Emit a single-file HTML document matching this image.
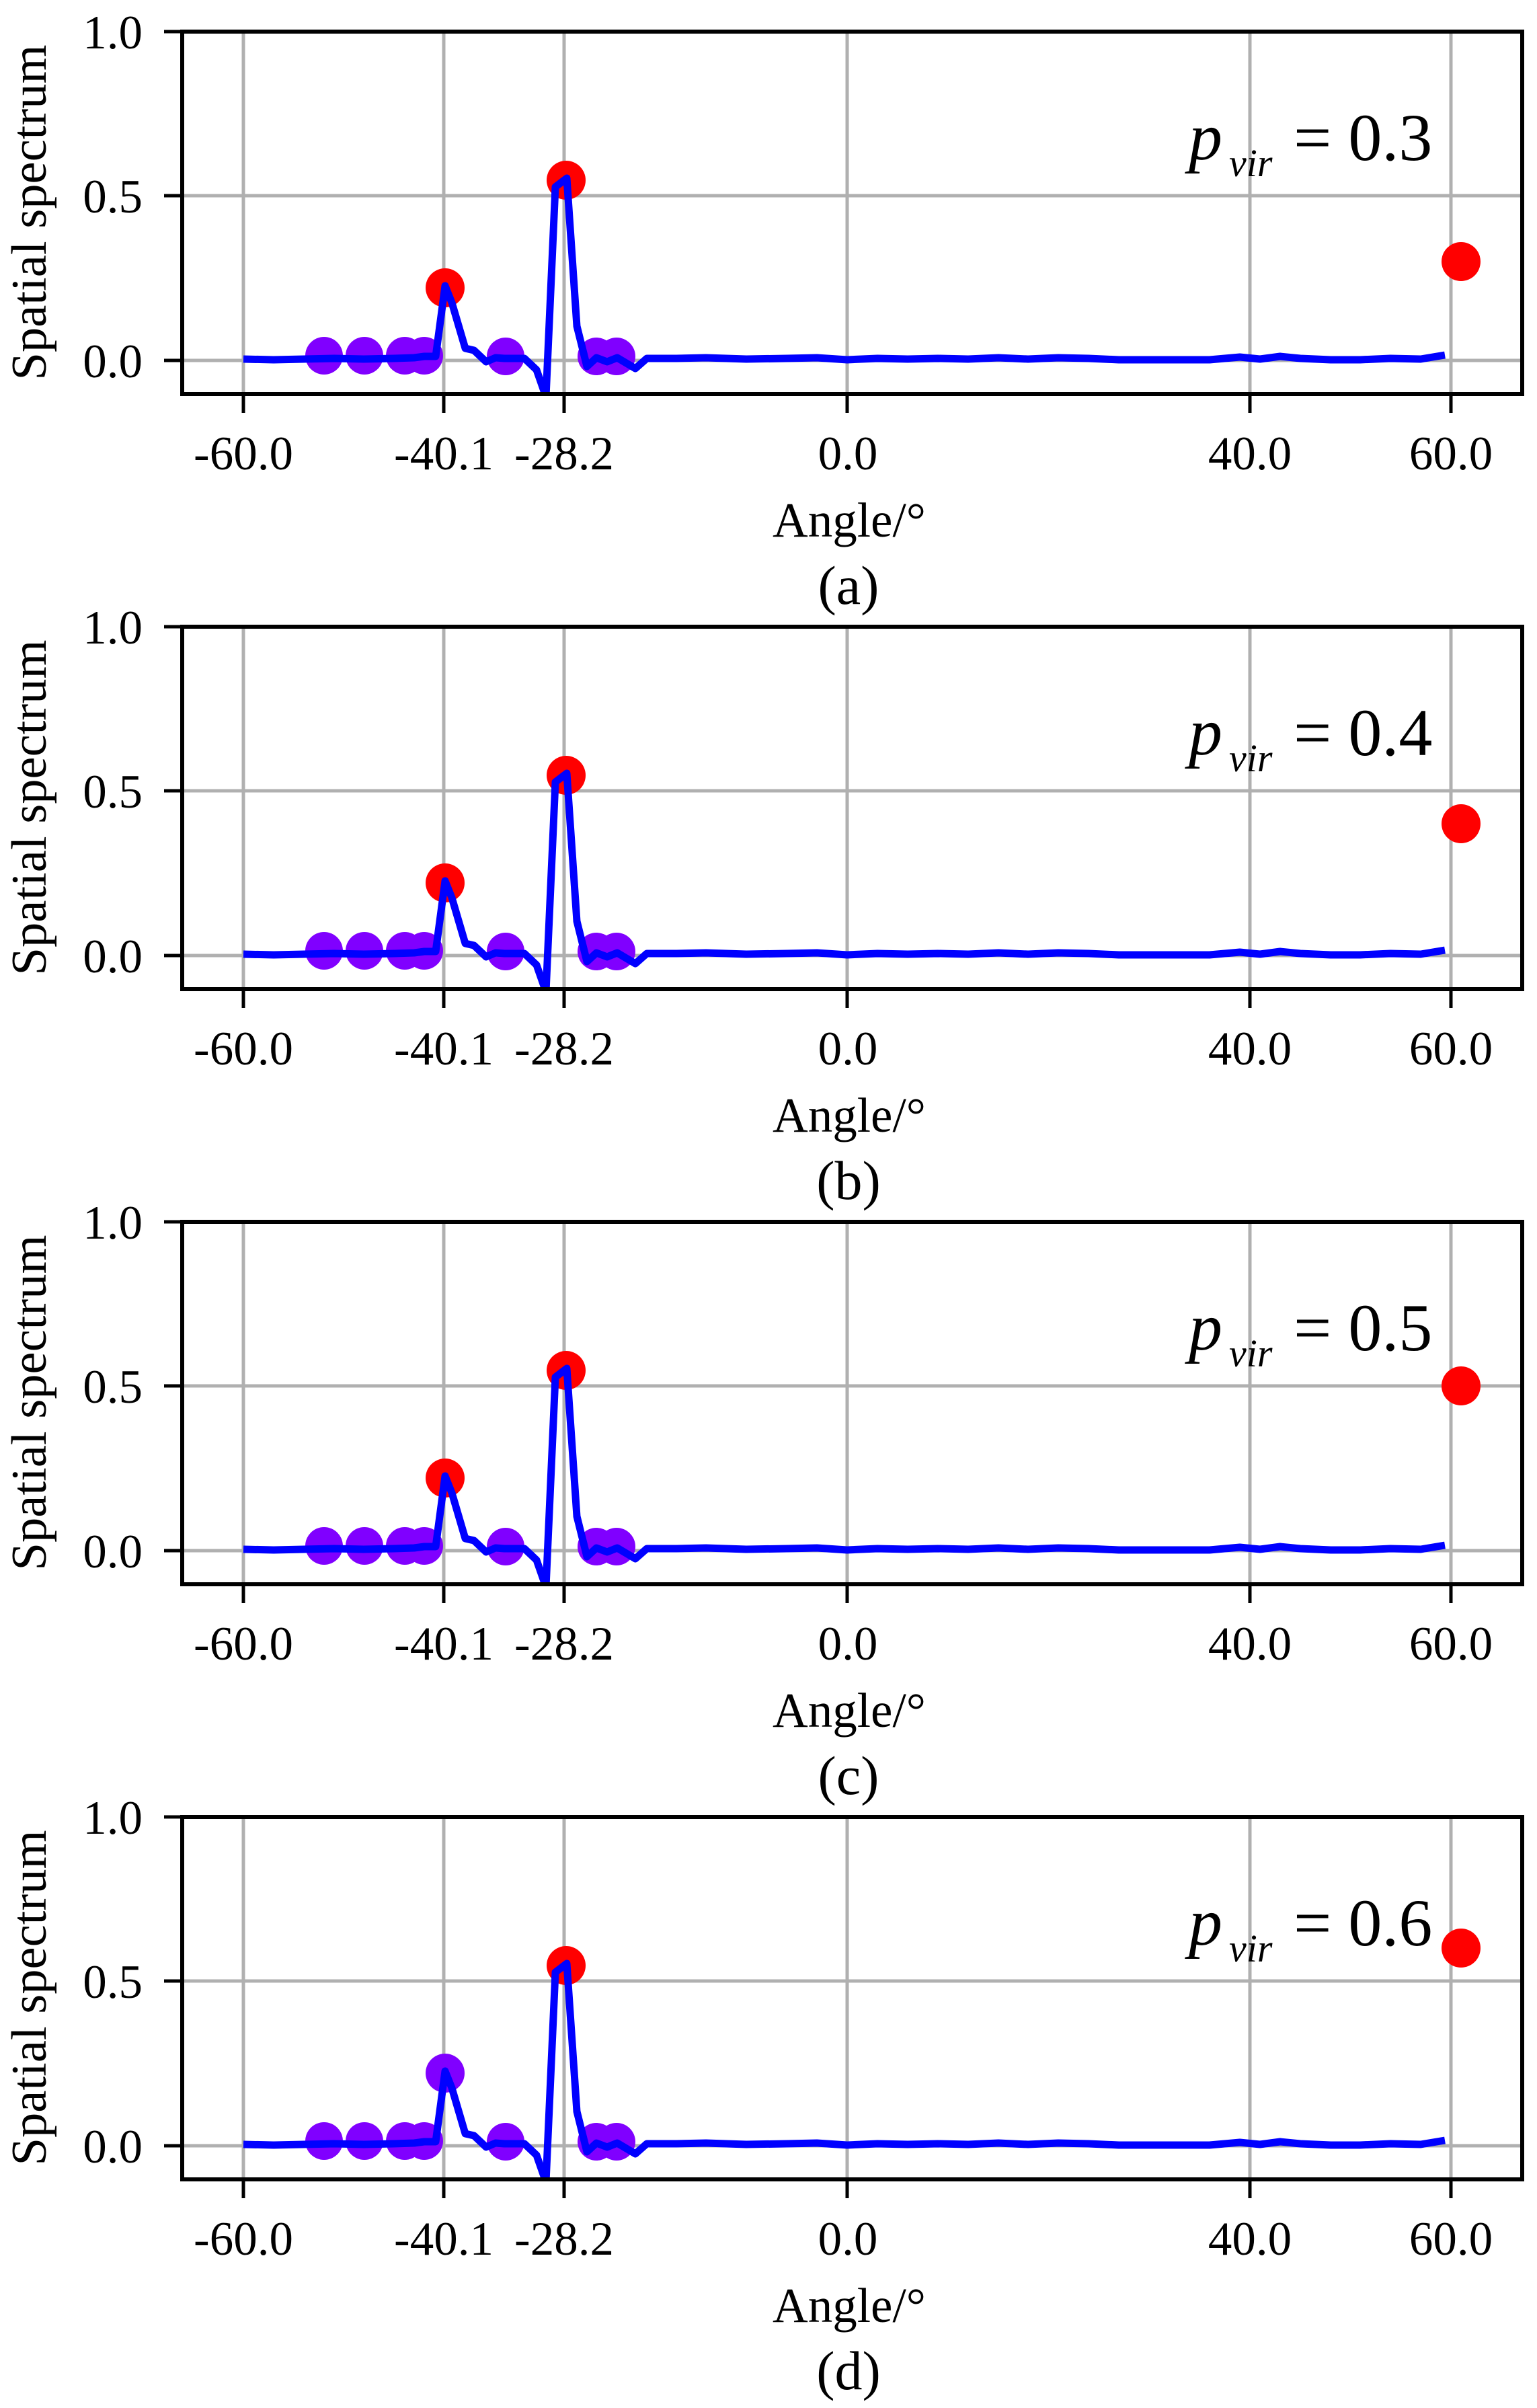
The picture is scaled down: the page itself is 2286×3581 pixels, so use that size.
<!DOCTYPE html>
<html><head><meta charset="utf-8"><style>
html,body{margin:0;padding:0;background:#fff;}
svg{display:block;}
text{font-family:"Liberation Serif",serif;fill:#000;}
</style></head><body>
<svg width="2286" height="3581" viewBox="0 0 2286 3581" xmlns="http://www.w3.org/2000/svg">
<defs>
<clipPath id="cp"><rect x="271" y="47" width="1993" height="539"/></clipPath>
<g id="grid" stroke="#b0b0b0" stroke-width="5" fill="none">
<line x1="362" y1="47" x2="362" y2="586"/>
<line x1="660" y1="47" x2="660" y2="586"/>
<line x1="839" y1="47" x2="839" y2="586"/>
<line x1="1260" y1="47" x2="1260" y2="586"/>
<line x1="1859" y1="47" x2="1859" y2="586"/>
<line x1="2158" y1="47" x2="2158" y2="586"/>
<line x1="271" y1="536" x2="2264" y2="536"/>
<line x1="271" y1="291" x2="2264" y2="291"/>
</g>
<g id="purp" fill="#8000ff">
<circle cx="482" cy="529" r="28"/><circle cx="542" cy="529" r="28"/>
<circle cx="602" cy="529" r="28"/><circle cx="631" cy="529" r="28"/>
<circle cx="752" cy="530" r="28"/><circle cx="887" cy="530" r="28"/><circle cx="917" cy="530" r="28"/>
</g>
<polyline id="curve" fill="none" stroke="#0000ff" stroke-width="11" stroke-linejoin="round" points="362,534 407,535 452,534 497,533 541,534 586,533 616,532 631,530 648,530 662,425 672,450 692,518 705,521 723,538 737,532 750,533 780,533 798,550 812,590 826,278 843,265 858,485 873,545 887,532 903,538 918,532 945,548 962,533 1006,533 1050,532 1110,534 1170,533 1215,532 1260,535 1305,533 1350,534 1395,533 1440,534 1485,532 1529,534 1574,532 1619,533 1664,535 1709,535 1754,535 1799,535 1844,531 1874,534 1904,530 1934,533 1979,535 2023,535 2068,533 2113,534 2149,528"/>
<g id="frame">
<rect x="271" y="47" width="1993" height="539" fill="none" stroke="#000" stroke-width="6"/>
<g stroke="#000" stroke-width="5">
<line x1="362" y1="586" x2="362" y2="614"/><line x1="660" y1="586" x2="660" y2="614"/>
<line x1="839" y1="586" x2="839" y2="614"/><line x1="1260" y1="586" x2="1260" y2="614"/>
<line x1="1859" y1="586" x2="1859" y2="614"/><line x1="2158" y1="586" x2="2158" y2="614"/>
<line x1="244" y1="47" x2="271" y2="47"/><line x1="244" y1="291" x2="271" y2="291"/><line x1="244" y1="536" x2="271" y2="536"/>
</g>
</g>
</defs>

<!-- Panel a -->
<g>
<use href="#grid"/><use href="#purp"/>
<circle cx="662" cy="428" r="29" fill="#ff0000"/><circle cx="842" cy="268" r="29" fill="#ff0000"/>
<circle cx="2173" cy="389" r="29" fill="#ff0000"/>
<g clip-path="url(#cp)"><use href="#curve"/></g>
<use href="#frame"/>
<g font-size="71" text-anchor="end"><text x="212" y="72">1.0</text><text x="212" y="316">0.5</text><text x="212" y="561">0.0</text></g>
<g font-size="71" text-anchor="middle"><text x="362" y="698">-60.0</text><text x="660" y="698">-40.1</text><text x="839" y="698">-28.2</text><text x="1261" y="698">0.0</text><text x="1859" y="698">40.0</text><text x="2158" y="698">60.0</text></g>
<text x="1263" y="798" font-size="73" text-anchor="middle">Angle/°</text>
<text x="1262" y="898" font-size="82" text-anchor="middle">(a)</text>
<text transform="translate(68,316) rotate(-90)" font-size="74" text-anchor="middle" textLength="499" lengthAdjust="spacingAndGlyphs">Spatial spectrum</text>
<text x="1768" y="237" font-size="100" font-style="italic">p</text><text x="1828" y="262" font-size="58" font-style="italic">vir</text><text x="1924" y="238" font-size="100">= 0.3</text>
</g>

<!-- Panel b -->
<g transform="translate(0,885)">
<use href="#grid"/><use href="#purp"/>
<circle cx="662" cy="428" r="29" fill="#ff0000"/><circle cx="842" cy="268" r="29" fill="#ff0000"/>
<circle cx="2173" cy="340" r="29" fill="#ff0000"/>
<g clip-path="url(#cp)"><use href="#curve"/></g>
<use href="#frame"/>
<g font-size="71" text-anchor="end"><text x="212" y="72">1.0</text><text x="212" y="316">0.5</text><text x="212" y="561">0.0</text></g>
<g font-size="71" text-anchor="middle"><text x="362" y="698">-60.0</text><text x="660" y="698">-40.1</text><text x="839" y="698">-28.2</text><text x="1261" y="698">0.0</text><text x="1859" y="698">40.0</text><text x="2158" y="698">60.0</text></g>
<text x="1263" y="798" font-size="73" text-anchor="middle">Angle/°</text>
<text x="1262" y="898" font-size="82" text-anchor="middle">(b)</text>
<text transform="translate(68,316) rotate(-90)" font-size="74" text-anchor="middle" textLength="499" lengthAdjust="spacingAndGlyphs">Spatial spectrum</text>
<text x="1768" y="237" font-size="100" font-style="italic">p</text><text x="1828" y="262" font-size="58" font-style="italic">vir</text><text x="1924" y="238" font-size="100">= 0.4</text>
</g>

<!-- Panel c -->
<g transform="translate(0,1770)">
<use href="#grid"/><use href="#purp"/>
<circle cx="662" cy="428" r="29" fill="#ff0000"/><circle cx="842" cy="268" r="29" fill="#ff0000"/>
<circle cx="2173" cy="291" r="29" fill="#ff0000"/>
<g clip-path="url(#cp)"><use href="#curve"/></g>
<use href="#frame"/>
<g font-size="71" text-anchor="end"><text x="212" y="72">1.0</text><text x="212" y="316">0.5</text><text x="212" y="561">0.0</text></g>
<g font-size="71" text-anchor="middle"><text x="362" y="698">-60.0</text><text x="660" y="698">-40.1</text><text x="839" y="698">-28.2</text><text x="1261" y="698">0.0</text><text x="1859" y="698">40.0</text><text x="2158" y="698">60.0</text></g>
<text x="1263" y="798" font-size="73" text-anchor="middle">Angle/°</text>
<text x="1262" y="898" font-size="82" text-anchor="middle">(c)</text>
<text transform="translate(68,316) rotate(-90)" font-size="74" text-anchor="middle" textLength="499" lengthAdjust="spacingAndGlyphs">Spatial spectrum</text>
<text x="1768" y="237" font-size="100" font-style="italic">p</text><text x="1828" y="262" font-size="58" font-style="italic">vir</text><text x="1924" y="238" font-size="100">= 0.5</text>
</g>

<!-- Panel d -->
<g transform="translate(0,2655)">
<use href="#grid"/><use href="#purp"/>
<circle cx="662" cy="428" r="29" fill="#8000ff"/><circle cx="842" cy="268" r="29" fill="#ff0000"/>
<circle cx="2173" cy="242" r="29" fill="#ff0000"/>
<g clip-path="url(#cp)"><use href="#curve"/></g>
<use href="#frame"/>
<g font-size="71" text-anchor="end"><text x="212" y="72">1.0</text><text x="212" y="316">0.5</text><text x="212" y="561">0.0</text></g>
<g font-size="71" text-anchor="middle"><text x="362" y="698">-60.0</text><text x="660" y="698">-40.1</text><text x="839" y="698">-28.2</text><text x="1261" y="698">0.0</text><text x="1859" y="698">40.0</text><text x="2158" y="698">60.0</text></g>
<text x="1263" y="798" font-size="73" text-anchor="middle">Angle/°</text>
<text x="1262" y="898" font-size="82" text-anchor="middle">(d)</text>
<text transform="translate(68,316) rotate(-90)" font-size="74" text-anchor="middle" textLength="499" lengthAdjust="spacingAndGlyphs">Spatial spectrum</text>
<text x="1768" y="237" font-size="100" font-style="italic">p</text><text x="1828" y="262" font-size="58" font-style="italic">vir</text><text x="1924" y="238" font-size="100">= 0.6</text>
</g>
</svg>
</body></html>
